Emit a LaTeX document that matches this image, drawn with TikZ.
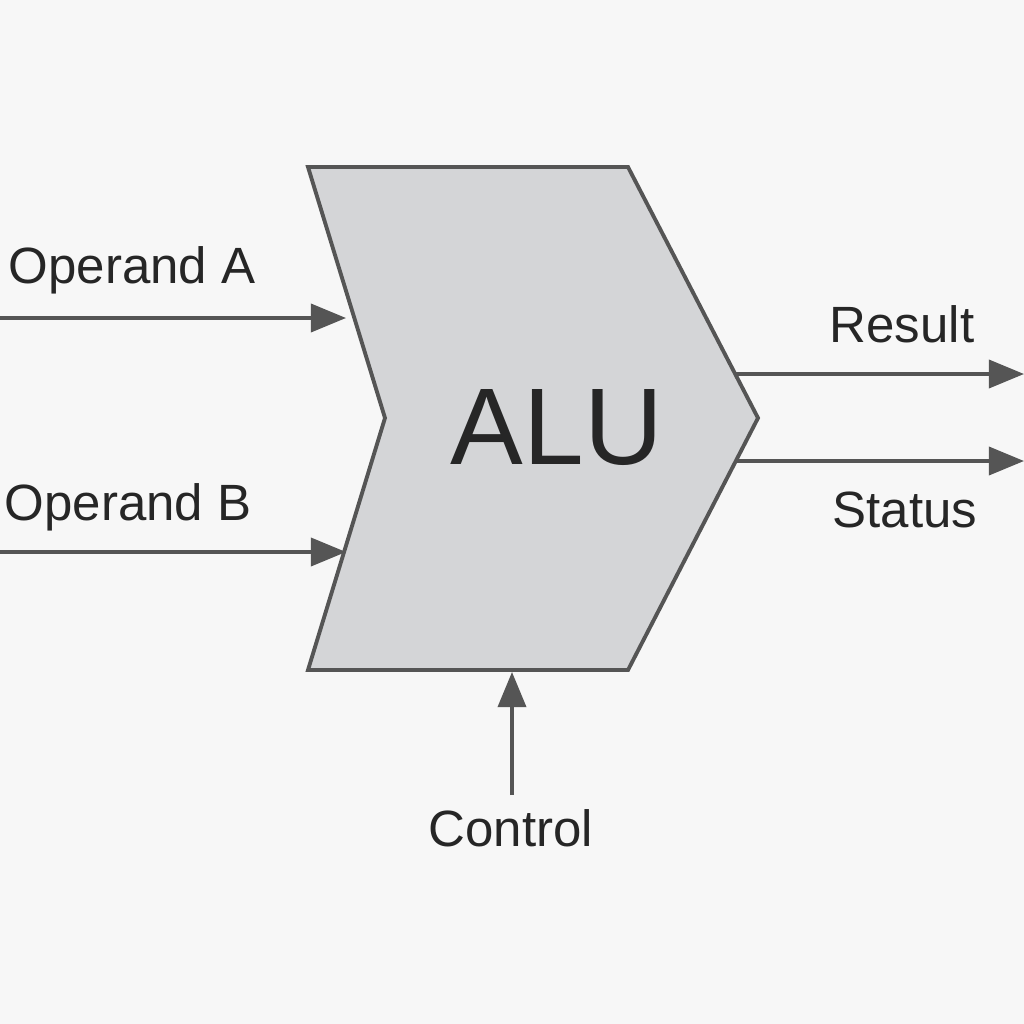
\documentclass[tikz,border=0pt]{standalone}
\usepackage{fontspec}
\setmainfont{Liberation Sans}
\usetikzlibrary{arrows.meta}
\definecolor{bgcol}{HTML}{F7F7F7}
\definecolor{alufill}{HTML}{D4D5D7}
\definecolor{linecol}{HTML}{555555}
\tikzset{
  sig/.style={draw=linecol, line width=1pt, -{Triangle[length=10pt,width=8pt]}},
  lbl/.style={font=\fontsize{14.5}{17}\selectfont, text=black!85},
}
\begin{document}
\begin{tikzpicture}[x=0.01cm,y=-0.01cm]
\useasboundingbox[fill=bgcol] (0,0) rectangle (1024,1024);
% body of the alu
\draw[fill=alufill, draw=linecol, line width=1.1pt, line join=miter]
  (308,167) -- (628,167) -- (758,418) -- (628,670) -- (308,670) -- (385,418) -- cycle;
\node[font=\fontsize{31}{36}\selectfont, text=black!85] (alu) at (557,428) {ALU};
% inputs
\coordinate (inA0) at (0,318);   \coordinate (inA1) at (346,318);
\coordinate (inB0) at (0,552);   \coordinate (inB1) at (346,552);
\coordinate (ctl0) at (512,795); \coordinate (ctl1) at (512,672);
\draw[sig] (inA0) -- (inA1);
\draw[sig] (inB0) -- (inB1);
\draw[sig] (ctl0) -- (ctl1);
% outputs
\coordinate (res0) at (736,374); \coordinate (res1) at (1024,374);
\coordinate (sta0) at (736,461); \coordinate (sta1) at (1024,461);
\draw[sig] (res0) -- (res1);
\draw[sig] (sta0) -- (sta1);
% labels
\node[lbl] (opA) at (132,270) {Operand A};
\node[lbl] (opB) at (128,507) {Operand B};
\node[lbl] (res) at (902,324) {Result};
\node[lbl] (sta) at (905,510) {Status};
\node[lbl] (ctl) at (511,828) {Control};
\end{tikzpicture}
\end{document}
